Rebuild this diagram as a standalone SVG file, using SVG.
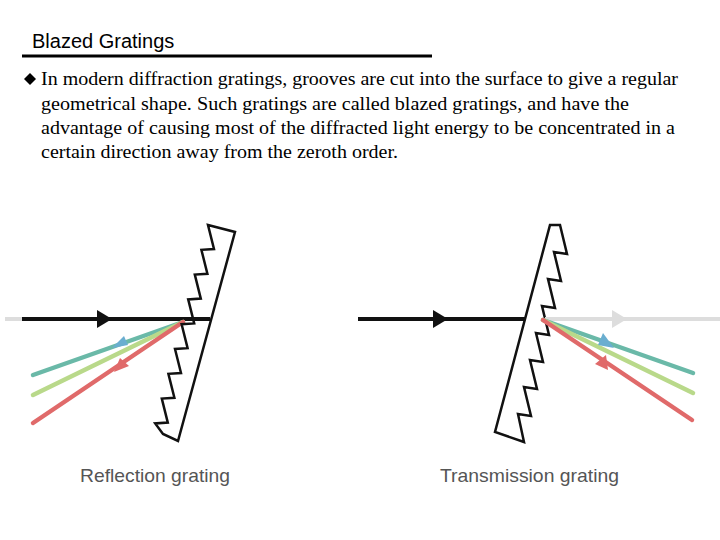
<svg xmlns="http://www.w3.org/2000/svg" width="720" height="540" viewBox="0 0 720 540">
<style>
.t{font-family:"Liberation Serif",serif;font-size:18px;fill:#000}
.lab{font-family:"Liberation Sans",Arial,sans-serif;font-size:19px;fill:#555}
.g{fill:#fff;stroke:#111;stroke-width:2.5;stroke-linejoin:miter}
.ray{stroke-width:4.5;fill:none;stroke-linecap:round}
</style>
<rect width="720" height="540" fill="#fff"/>
<text x="32" y="48" font-family="Liberation Sans,Arial,sans-serif" font-size="20">Blazed Gratings</text>
<line x1="22" y1="56" x2="432" y2="56" stroke="#000" stroke-width="3"/>
<path d="M30,73 L36,79 L30,85 L24,79 Z" fill="#000"/>
<text class="t" x="41" y="85" textLength="637" lengthAdjust="spacingAndGlyphs">In modern diffraction gratings, grooves are cut into the surface to give a regular</text>
<text class="t" x="41" y="110" textLength="588" lengthAdjust="spacingAndGlyphs">geometrical shape.  Such gratings are called blazed gratings, and have the</text>
<text class="t" x="41" y="134" textLength="634" lengthAdjust="spacingAndGlyphs">advantage of causing most of the diffracted light energy to be concentrated in a</text>
<text class="t" x="41" y="158" textLength="357" lengthAdjust="spacingAndGlyphs">certain direction away from the zeroth order.</text>
<g id="reflection">
<line x1="5" y1="319" x2="22" y2="319" stroke="#ddd" stroke-width="4"/>
<line x1="22" y1="319" x2="207" y2="319" stroke="#111" stroke-width="4"/>
<path d="M97,310 L112,319 L97,328 Z" fill="#111"/>
<line class="ray" x1="183" y1="322" x2="33" y2="375" stroke="#6ab9a8"/>
<line class="ray" x1="183" y1="322" x2="33" y2="395" stroke="#b9d98a"/>
<line class="ray" x1="183" y1="322" x2="33" y2="423" stroke="#e06a6a"/>
<path d="M124,336 L112,348 L128,345 Z" fill="#6aaed0"/>
<path d="M120,358 L114,372 L129,366 Z" fill="#e06a6a"/>
<path class="g" d="M208,225 L235,232 L178,441 L163,434 L155.2,423.4 L167.8,422.6 L161.8,398.6 L174.4,397.8 L168.4,373.8 L181,373 L175,349 L187.6,348.2 L181.6,324.2 L194.2,323.4 L188.2,299.4 L200.8,298.6 L194.8,274.6 L207.4,273.8 L201.4,249.8 L214,249 Z"/>
<line x1="186" y1="319" x2="210" y2="319" stroke="#111" stroke-width="4"/>
</g>
<g id="transmission">
<line x1="358" y1="319" x2="545" y2="319" stroke="#111" stroke-width="4"/>
<path d="M433,310 L448,319 L433,328 Z" fill="#111"/>
<path class="g" d="M550,225 L560,225 L567,254 L554,252 L561,281 L548,279 L555,308 L542,306 L549,335 L536,333 L543,362 L530,360 L537,389 L524,387 L531,416 L518,414 L524,442 L495,432 Z"/>
<line x1="545" y1="319" x2="720" y2="319" stroke="#ddd" stroke-width="4"/>
<path d="M612,310 L627,319 L612,328 Z" fill="#ddd"/>
<line class="ray" x1="543" y1="320" x2="693" y2="373" stroke="#6ab9a8"/>
<line class="ray" x1="543" y1="320" x2="693" y2="393" stroke="#b9d98a"/>
<line class="ray" x1="543" y1="320" x2="692" y2="420" stroke="#e06a6a"/>
<path d="M603,333 L614,348 L598,345 Z" fill="#6aaed0"/>
<path d="M606,355 L608,370 L595,364 Z" fill="#e06a6a"/>
</g>
<text class="lab" x="80" y="482" textLength="150" lengthAdjust="spacingAndGlyphs">Reflection grating</text>
<text class="lab" x="440" y="482" textLength="179" lengthAdjust="spacingAndGlyphs">Transmission grating</text>
</svg>
